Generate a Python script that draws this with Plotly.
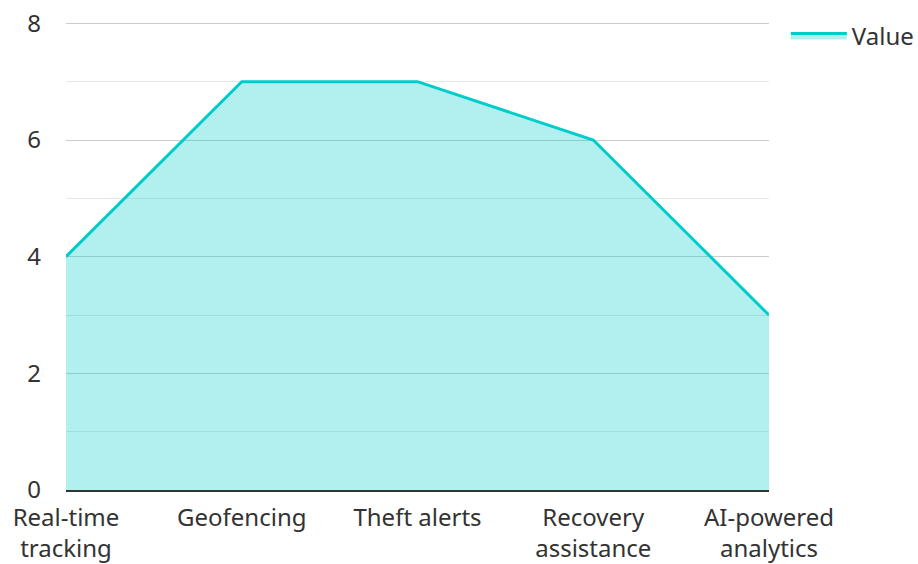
import plotly.graph_objects as go

categories = ["Real-time<br>tracking", "Geofencing", "Theft alerts", "Recovery<br>assistance", "AI-powered<br>analytics"]
values = [4, 7, 7, 6, 3]
series_name = "Value"
y_ticks = [0, 2, 4, 6, 8]

fig = go.Figure()
fig.add_trace(go.Scatter(
    x=categories, y=values, name=series_name, mode="lines",
    line=dict(color="#00CCCC", width=3),
    fill="tozeroy", fillcolor="rgba(0,204,204,0.3)",
))

fig.update_layout(
    width=918, height=564,
    margin=dict(l=66, r=149, t=21, b=74, autoexpand=False),
    paper_bgcolor="white", plot_bgcolor="white",
    font=dict(family="Noto Sans, Open Sans, sans-serif", size=24, color="#333333"),
    showlegend=True,
    legend=dict(x=1.024, y=1.016, xanchor="left", yanchor="top", font=dict(size=24),
                itemwidth=56, bgcolor="rgba(0,0,0,0)"),
    xaxis=dict(range=[0, 4], showgrid=False, showline=True, linecolor="#333333", linewidth=2,
               ticks="", zeroline=False, fixedrange=True, automargin=False, ticklabelstandoff=5),
    yaxis=dict(range=[0, 8.04], tickvals=y_ticks, showgrid=True, gridcolor="#cccccc", gridwidth=1,
               zeroline=False, showline=False, ticks="", ticklabelstandoff=24, automargin=False,
               ticklabeloverflow="allow", fixedrange=True,
               minor=dict(dtick=1, showgrid=True, gridcolor="#e6e6e6", gridwidth=1)),
)

fig.write_html("out.html", config={"displayModeBar": False, "staticPlot": True},
               post_script="document.body.style.margin='0';")
